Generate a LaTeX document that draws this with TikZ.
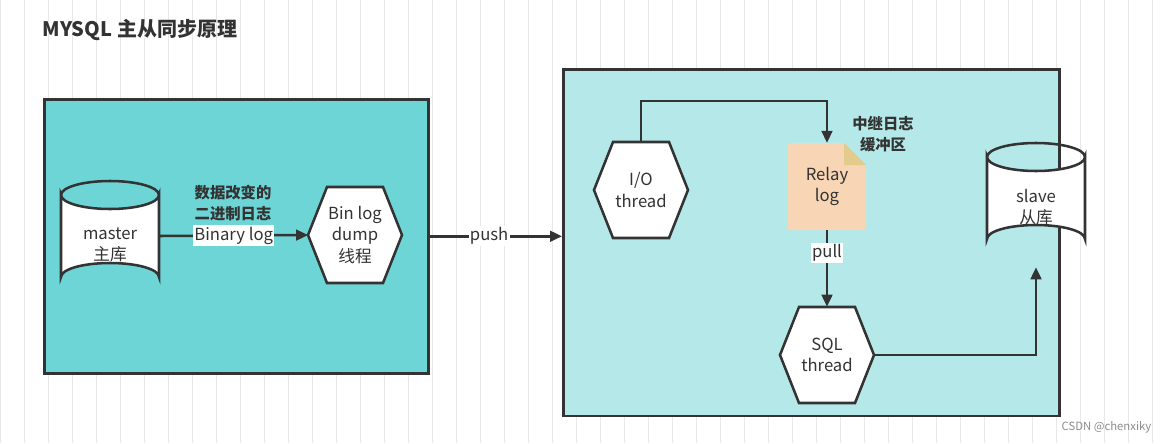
\documentclass[tikz,border=0pt]{standalone}
\usepackage{fontspec}
\setmainfont{Noto Sans CJK SC}
\usetikzlibrary{shapes.geometric,arrows.meta}
\definecolor{ink}{HTML}{333333}
\definecolor{mfill}{HTML}{6ED5D6}
\definecolor{sfill}{HTML}{B5E9E9}
\definecolor{relay}{HTML}{F8D5B5}
\definecolor{fold}{HTML}{E2CB8B}
\tikzset{
  box/.style={draw=ink,line width=1.9pt},
  conn/.style={draw=ink,line width=1.9pt,-{Triangle[length=9pt,width=8pt]}},
  lbl/.style={fill=white,inner sep=1pt,font=\fontsize{12.5}{14}\selectfont,text=ink},
  bold/.style={font=\bfseries\fontsize{11.5}{15.5}\selectfont,text=ink,align=center},
  txt/.style={font=\fontsize{12.5}{16}\selectfont,text=ink,align=center},
  shp/.style={draw=ink,line width=1.9pt,fill=white}
}
% hexagon: name, cx, cy, text
\newcommand{\hexn}[4]{%
  \draw[shp] (#2-47,#3) -- (#2-28,#3-48) -- (#2+28,#3-48) -- (#2+47,#3) -- (#2+28,#3+48) -- (#2-28,#3+48) -- cycle;
  \node[txt,minimum width=70pt,minimum height=72pt] (#1) at (#2,#3) {#4};}
% cylinder: name, cx, cy, text (width 98, height 110)
\newcommand{\cyln}[4]{%
  \draw[shp] (#2-49,#3-41) -- (#2-49,#3+41) arc[start angle=180,end angle=360,x radius=49,y radius=14]
     -- (#2+49,#3-41) arc[start angle=0,end angle=180,x radius=49,y radius=14] -- cycle;
  \draw[ink,line width=1.9pt] (#2-49,#3-41) arc[start angle=180,end angle=360,x radius=49,y radius=14];
  \node[inner sep=0,minimum width=73.5pt,minimum height=82.5pt] (#1) at (#2,#3) {};
  \node[txt] at (#2,#3+9) {#4};}
\begin{document}
\begin{tikzpicture}[x=0.75pt,y=-0.75pt]
\useasboundingbox (0,0) rectangle (1160,443);
\fill[white] (0,0) rectangle (1160,443);
\draw[black!9,line width=0.6pt] (0,0) grid[step=24] (1160,443);
\node[font=\bfseries\fontsize{15}{18}\selectfont,text=ink,anchor=west] (title) at (38,30) {MYSQL 主从同步原理};
% boxes
\node[box,fill=mfill,minimum width=288pt,minimum height=205.5pt,anchor=north west,inner sep=0] (mbox) at (43,98) {};
\node[box,fill=sfill,minimum width=372pt,minimum height=260pt,anchor=north west,inner sep=0] (sbox) at (562,68) {};
\cyln{master}{110}{236}{master\\主库}
\hexn{dump}{355}{235}{Bin log\\dump\\线程}
\node[bold] (bl) at (233,203) {数据改变的\\二进制日志};
\draw[conn] (master.east) -- node[lbl] {Binary log} (dump.west);
\draw[conn] (mbox.east) -- node[lbl,pos=0.45] {push} (sbox.west |- mbox.east);
% slave side
\hexn{io}{641}{190}{I/O\\thread}
\fill[relay] (788,143) -- (844,143) -- (866,165) -- (866,230) -- (788,230) -- cycle;
\fill[fold] (844,143) -- (866,165) -- (844,165) -- cycle;
\node[txt,minimum width=58pt,minimum height=65pt] (relay) at (827,186.5) {Relay\\log};
\node[bold] (rl) at (883,134) {中继日志\\缓冲区};
\hexn{sql}{827}{355}{SQL\\thread}
\cyln{slave}{1036}{198}{slave\\从库}
\coordinate (c1) at (641,101);
\coordinate (c2) at (827,101);
\draw[conn] (io.north) -- (c1) -- (c2) -- (relay.north);
\draw[conn] (relay.south) -- node[lbl,pos=0.3] {pull} (sql.north);
\draw[conn] (sql.east) -| ([yshift=-10.5pt]slave.south);
\node[font=\fontsize{8.5}{10}\selectfont,text=black!45,anchor=east] (wm) at (1156,427) {CSDN @chenxiky};
\end{tikzpicture}
\end{document}
